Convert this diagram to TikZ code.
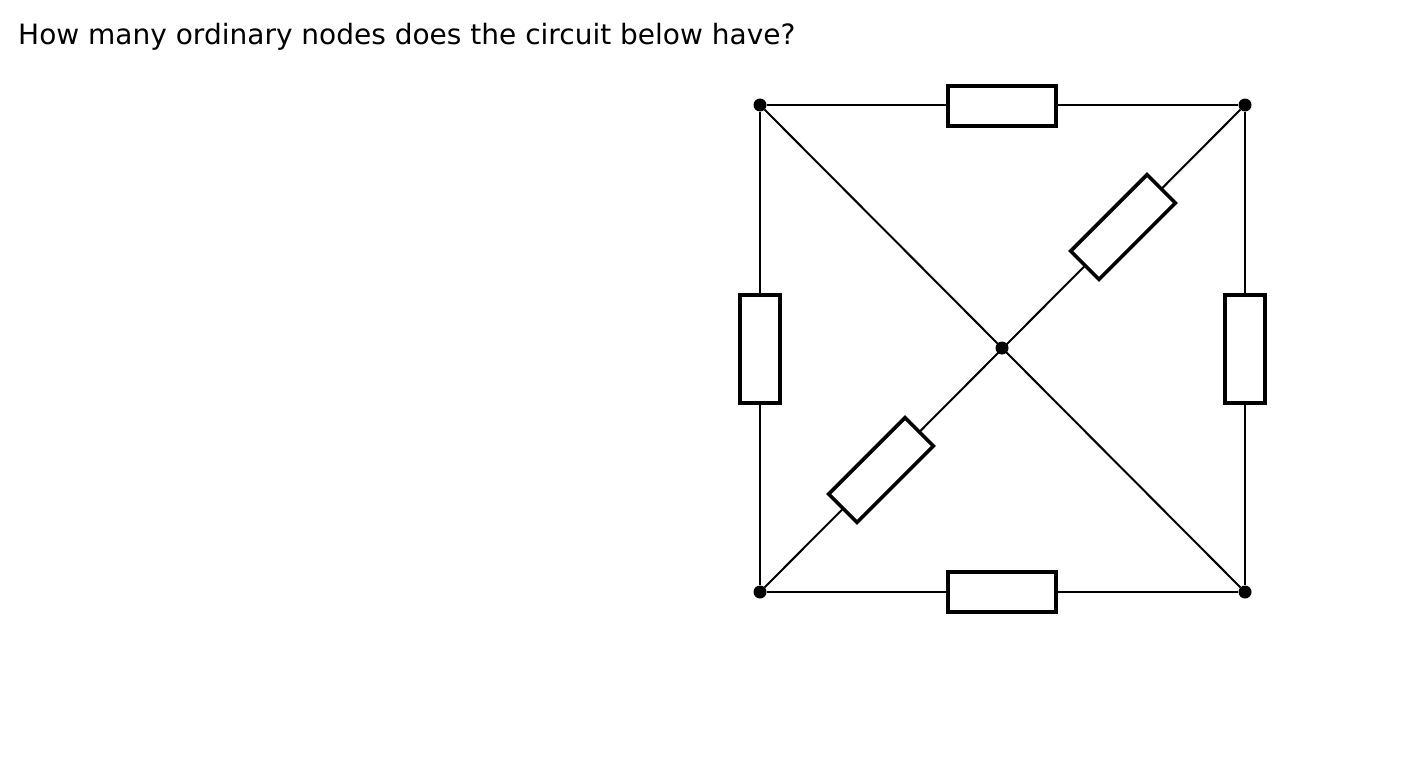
\documentclass[tikz,border=0pt]{standalone}
\usepackage{fontspec}
\setmainfont{DejaVu Sans}
\usetikzlibrary{positioning}

\begin{document}
\begin{tikzpicture}[
    x=1pt, y=-1pt,
    res/.style={rectangle,draw,line width=3.6pt,fill=white,minimum width=108pt,minimum height=40pt,inner sep=0pt},
    dot/.style={circle,fill=black,inner sep=0pt,minimum size=13pt},
    wire/.style={line width=2pt}
]
\useasboundingbox (0,0) rectangle (1414,776);

% Question
\node[anchor=west,font=\fontsize{28}{32}\selectfont,inner sep=0pt] (question) at (18,37) {How many ordinary nodes does the circuit below have?};

% Junctions
\node[dot] (tl) at (760,105) {};
\node[dot] (tr) at (1245,105) {};
\node[dot] (bl) at (760,592) {};
\node[dot] (br) at (1245,592) {};
\node[dot] (mid) at (1002,348) {};

% Wires
\draw[wire] (tl) -- (tr) -- (br) -- (bl) -- (tl);
\draw[wire] (tl) -- (br);
\draw[wire] (bl) -- (tr);

% Resistors
\node[res] (rtop) at (1002,106) {};
\node[res] (rbot) at (1002,592) {};
\node[res,rotate=90] (rleft) at (760,349) {};
\node[res,rotate=90] (rright) at (1245,349) {};
\node[res,rotate=45] (rdiag1) at (1123,227) {};
\node[res,rotate=45] (rdiag2) at (881,470) {};

\end{tikzpicture}
\end{document}
